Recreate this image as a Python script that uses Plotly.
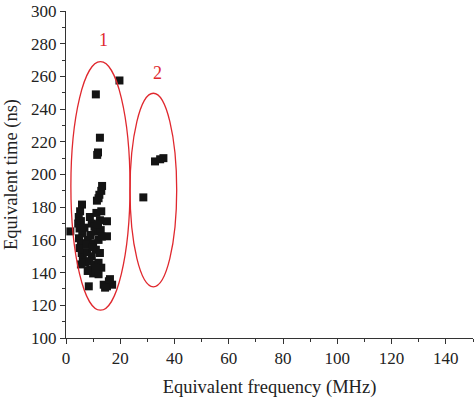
import plotly.graph_objects as go

# Cluster 1 (equivalent frequency MHz, equivalent time ns)
freq1 = [19.7, 11.0, 12.5, 11.8, 11.5,
         13.3, 13.0, 12.3, 12.0, 11.4, 13.0,
         5.9, 5.2, 4.7, 5.5, 4.5, 5.0, 6.0, 4.8, 5.5, 5.0, 5.8, 6.2, 5.5, 7.0,
         8.8, 11.2, 9.5, 10.5, 12.5, 11.0, 12.8, 8.0, 9.0, 7.5, 10.0, 12.0, 13.2,
         11.0, 12.5, 9.5, 8.5, 10.5, 12.0, 9.0, 11.5, 13.0, 10.0, 12.0, 8.0, 10.8,
         6.8, 7.8, 11.8, 9.8,
         15.1, 15.1, 1.6,
         8.4, 13.9, 15.8, 17.0, 15.1, 14.4, 16.2]
time1 = [257.5, 249.0, 222.5, 213.5, 212.0,
         193.0, 190.0, 187.6, 185.5, 184.0, 177.5,
         181.6, 177.5, 174.0, 171.5, 170.0, 167.0, 164.0, 161.0, 158.0, 155.0, 152.0, 149.0, 145.0, 146.0,
         174.0, 176.5, 170.0, 168.0, 172.0, 165.0, 166.0, 160.0, 163.0, 157.0, 158.0, 160.0, 162.0,
         154.0, 152.0, 150.0, 147.0, 145.0, 146.0, 142.0, 141.0, 143.0, 139.5, 139.0, 141.0, 142.8,
         167.5, 152.5, 169.5, 155.5,
         171.4, 162.2, 165.2,
         131.6, 132.6, 134.7, 132.6, 131.6, 130.8, 136.0]

# Cluster 2
freq2 = [28.5, 32.8, 34.7, 35.9]
time2 = [186.0, 208.0, 209.3, 210.0]

# Group ellipses: (center x, center y, radius x, radius y) and labels
ellipse_centers_x = [12.7, 32.2]
ellipse_centers_y = [193.0, 190.5]
ellipse_radii_x = [10.9, 8.6]
ellipse_radii_y = [76.0, 59.2]
group_labels = ["1", "2"]
label_x = [13.7, 33.6]
label_y = [282.0, 262.0]

x_ticks = [0, 20, 40, 60, 80, 100, 120, 140]
y_ticks = [100, 120, 140, 160, 180, 200, 220, 240, 260, 280, 300]

FONT = "Liberation Serif, DejaVu Serif, serif"

fig = go.Figure()
fig.add_trace(go.Scatter(
    x=freq1 + freq2, y=time1 + time2, mode="markers",
    marker=dict(symbol="square", size=8, color="#141414", line=dict(width=0)),
    showlegend=False, hoverinfo="x+y"))

for cx, cy, rx, ry in zip(ellipse_centers_x, ellipse_centers_y, ellipse_radii_x, ellipse_radii_y):
    fig.add_shape(type="circle", xref="x", yref="y",
                  x0=cx - rx, x1=cx + rx, y0=cy - ry, y1=cy + ry,
                  line=dict(color="#e0282e", width=1.3))

for t, lx, ly in zip(group_labels, label_x, label_y):
    fig.add_annotation(x=lx, y=ly, text=t, showarrow=False,
                       font=dict(family=FONT, size=18, color="#e0282e"))

axis_common = dict(
    showgrid=False, zeroline=False, showline=True, linecolor="#333", linewidth=1,
    ticks="outside", ticklen=5, tickwidth=1, tickcolor="#333",
    tickfont=dict(family=FONT, size=17, color="#222"),
    minor=dict(ticks="outside", ticklen=3, tickwidth=1, tickcolor="#333"),
    automargin=False,
)

fig.update_xaxes(range=[0, 150], tickvals=x_ticks,
                 title=dict(text="Equivalent frequency (MHz)", font=dict(family=FONT, size=18.5, color="#222"), standoff=14),
                 minor_dtick=10, **axis_common)
fig.update_yaxes(range=[100, 300], tickvals=y_ticks,
                 title=dict(text="Equivalent time (ns)", font=dict(family=FONT, size=18.5, color="#222"), standoff=8),
                 minor_dtick=10, **axis_common)

fig.update_layout(
    width=474, height=398,
    margin=dict(l=66, r=1, t=11, b=60),
    plot_bgcolor="white", paper_bgcolor="white",
)

fig.write_html("out.html", config={"displayModeBar": False},
               post_script="document.body.style.margin='0';")
